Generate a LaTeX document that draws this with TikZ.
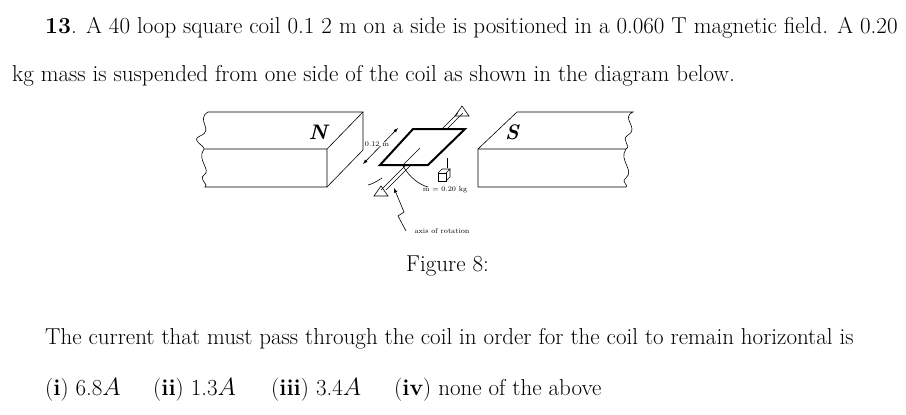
\documentclass[tikz,border=0pt]{standalone}
\usepackage{fontspec}
\begin{document}
\begin{tikzpicture}[x=1pt,y=-1pt,
  txt/.style={anchor=base west,inner sep=0pt,font=\fontsize{23}{26}\selectfont},
  tiny/.style={inner sep=0pt,font=\fontsize{7.2}{8}\selectfont},
  pole/.style={font=\fontsize{21}{21}\selectfont\bfseries\itshape},
  ln/.style={line width=0.6pt}]
\useasboundingbox (0,0) rectangle (906,415);
\node[txt] (l1) at (45,33) {\textbf{13}. A 40 loop square coil 0.1 2 m on a side is positioned in a 0.060 T magnetic field. A 0.20};
\node[txt] (l2) at (12,81) {kg mass is suspended from one side of the coil as shown in the diagram below.};
\node[txt] (fig) at (406,271) {Figure 8:};
\node[txt] (q) at (45,344) {The current that must pass through the coil in order for the coil to remain horizontal is};
\node[txt] (o1) at (45,395) {(\textbf{i}) 6.8$A$};
\node[txt] (o2) at (153,395) {(\textbf{ii}) 1.3$A$};
\node[txt] (o3) at (271,395) {(\textbf{iii}) 3.4$A$};
\node[txt] (o4) at (394,395) {(\textbf{iv}) none of the above};
% left magnet
\draw[ln] (204,149) -- (327,149) -- (363,112) -- (208,112)
  .. controls (195,120) and (215,130) .. (200,136) .. controls (190,140) and (205,146) .. (204,149)
  .. controls (196,160) and (212,170) .. (204,175) .. controls (198,180) and (210,185) .. (205,187) -- (327,187) -- (327,149);
\draw[ln] (327,187) -- (363,150) -- (363,112);
\node[pole] (N) at (318,132) {N};
% right magnet
\draw[ln] (478,187) -- (478,149) -- (517,112) -- (633,112)
  .. controls (620,118) and (640,128) .. (628,135) .. controls (620,140) and (632,146) .. (626,149) -- (478,149);
\draw[ln] (626,149) .. controls (618,160) and (635,170) .. (626,178) .. controls (620,182) and (630,186) .. (626,187) -- (478,187);
\node[pole] (S) at (512,132) {S};
% rod
\draw[ln] (381,190) -- (458,113);
\draw[ln] (386,190) -- (463,113);
\draw[ln] (374,196) -- (381,186) -- (388,196) -- cycle;
\draw[ln] (455,116) -- (462,106) -- (469,116) -- cycle;
% coil
\draw[line width=2pt,fill=white] (380,165) -- (428,165) -- (465,129) -- (413,129) -- cycle;
\draw[ln] (403,165) -- (420,148);
% mass
\draw[ln] (447,158) -- (447,168);
\draw[ln,fill=white] (438,173) rectangle (446,181);
\draw[ln] (438,173) -- (442,169) -- (450,169) -- (446,173) (450,169) -- (450,177) -- (446,181);
% dimension
\draw[ln,<->,>=latex] (363,164) -- (398,128);
\node[tiny,fill=white] (dim) at (377,144) {0.12 m};
\node[tiny] (mass) at (445,190) {m = 0.20 kg};
\draw[ln] (403,166) .. controls (410,178) and (420,185) .. (428,187);
\node[tiny] (ax) at (442,231) {axis of rotation};
\draw[ln,->,>=latex] (406,231) -- (398,216) -- (404,212) -- (394,188);
\draw[ln] (382,178) .. controls (376,182) and (372,184) .. (368,185);
\end{tikzpicture}
\end{document}
